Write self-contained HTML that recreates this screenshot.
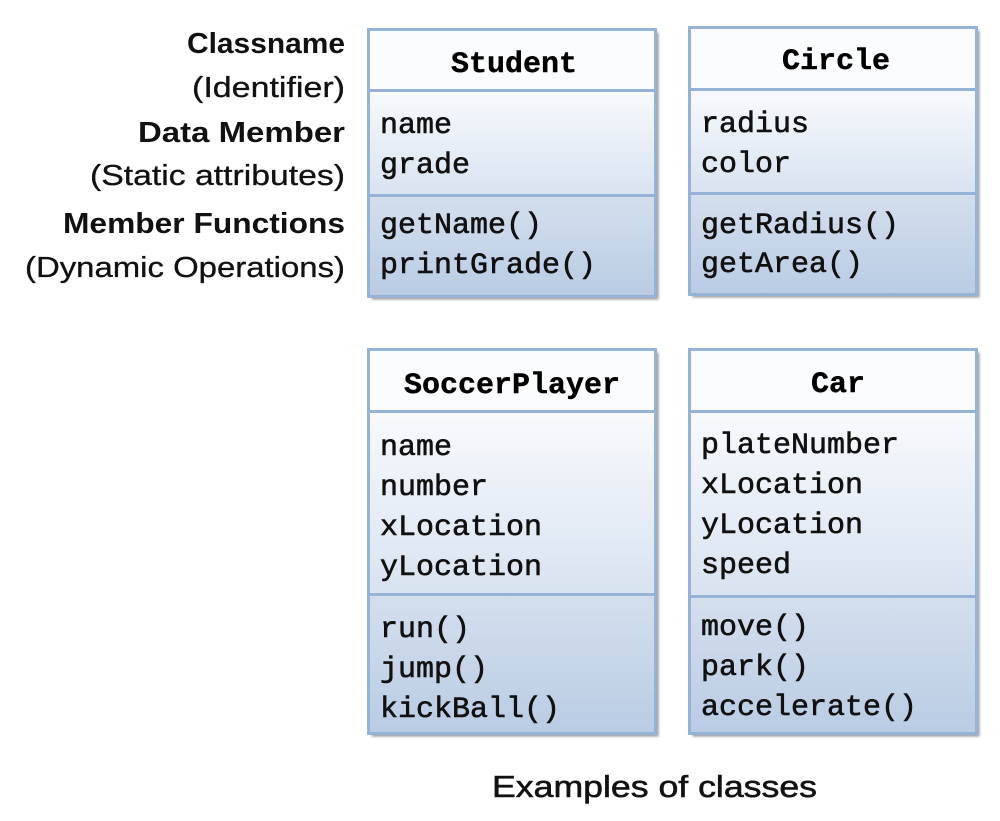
<!DOCTYPE html>
<html>
<head>
<meta charset="utf-8">
<style>
  html, body { margin: 0; padding: 0; background: #ffffff; }
  body { width: 1000px; height: 821px; overflow: hidden; }
  svg { display: block; }
  .lbl { font-family: "Liberation Sans", Arial, sans-serif; fill: #111; }
  .b { font-weight: bold; }
  .mono { font-family: "Liberation Mono", "DejaVu Sans Mono", monospace; font-size: 30px; fill: #111; stroke: #111; stroke-width: 0.6px; }
  .hdr { font-family: "Liberation Mono", "DejaVu Sans Mono", monospace; font-size: 30px; font-weight: bold; fill: #000; stroke: #000; stroke-width: 0.4px; }
</style>
</head>
<body>
<svg width="1000" height="821" viewBox="0 0 1000 821" xmlns="http://www.w3.org/2000/svg">
  <defs>
    <linearGradient id="attr" x1="0" y1="0" x2="0" y2="1">
      <stop offset="0" stop-color="#f8fafd"/>
      <stop offset="1" stop-color="#d8e3f0"/>
    </linearGradient>
    <linearGradient id="meth" x1="0" y1="0" x2="0" y2="1">
      <stop offset="0" stop-color="#d4dfed"/>
      <stop offset="1" stop-color="#b9cce4"/>
    </linearGradient>
    <filter id="sh" x="-5%" y="-5%" width="115%" height="115%">
      <feDropShadow dx="3" dy="3" stdDeviation="1.2" flood-color="#6e6e6e" flood-opacity="0.7"/>
    </filter>
  </defs>

  <!-- Left labels -->
  <text class="lbl b" x="345" y="53" font-size="29" text-anchor="end" textLength="158" lengthAdjust="spacingAndGlyphs">Classname</text>
  <text class="lbl" x="345" y="97" font-size="29" text-anchor="end" textLength="153" lengthAdjust="spacingAndGlyphs" stroke="#111" stroke-width="0.3">(Identifier)</text>
  <text class="lbl b" x="345" y="142" font-size="29" text-anchor="end" textLength="207" lengthAdjust="spacingAndGlyphs">Data Member</text>
  <text class="lbl" x="345" y="185" font-size="29" text-anchor="end" textLength="255" lengthAdjust="spacingAndGlyphs" stroke="#111" stroke-width="0.3">(Static attributes)</text>
  <text class="lbl b" x="345" y="233" font-size="29" text-anchor="end" textLength="282" lengthAdjust="spacingAndGlyphs">Member Functions</text>
  <text class="lbl" x="345" y="277" font-size="29" text-anchor="end" textLength="320" lengthAdjust="spacingAndGlyphs" stroke="#111" stroke-width="0.3">(Dynamic Operations)</text>

  <!-- Student -->
  <g filter="url(#sh)">
    <rect x="368.5" y="29.5" width="287" height="267" fill="#ffffff"/>
  </g>
  <rect x="368.5" y="29.5" width="287" height="61" fill="#fbfcfe"/>
  <rect x="368.5" y="90.5" width="287" height="105" fill="url(#attr)"/>
  <rect x="368.5" y="195.5" width="287" height="101" fill="url(#meth)"/>
  <rect x="368.5" y="29.5" width="287" height="267" fill="none" stroke="#95b3d7" stroke-width="3"/>
  <line x1="368" y1="90.5" x2="656" y2="90.5" stroke="#95b3d7" stroke-width="3"/>
  <line x1="368" y1="195.5" x2="656" y2="195.5" stroke="#95b3d7" stroke-width="3"/>
  <text class="hdr" x="451" y="72">Student</text>
  <text class="mono" x="380" y="133">name</text>
  <text class="mono" x="380" y="173">grade</text>
  <text class="mono" x="380" y="233">getName()</text>
  <text class="mono" x="380" y="273">printGrade()</text>

  <!-- Circle -->
  <g filter="url(#sh)">
    <rect x="689.5" y="27.5" width="287" height="267" fill="#ffffff"/>
  </g>
  <rect x="689.5" y="27.5" width="287" height="62" fill="#fbfcfe"/>
  <rect x="689.5" y="89.5" width="287" height="104" fill="url(#attr)"/>
  <rect x="689.5" y="193.5" width="287" height="101" fill="url(#meth)"/>
  <rect x="689.5" y="27.5" width="287" height="267" fill="none" stroke="#95b3d7" stroke-width="3"/>
  <line x1="689" y1="89.5" x2="977" y2="89.5" stroke="#95b3d7" stroke-width="3"/>
  <line x1="689" y1="193.5" x2="977" y2="193.5" stroke="#95b3d7" stroke-width="3"/>
  <text class="hdr" x="782" y="69">Circle</text>
  <text class="mono" x="701" y="132">radius</text>
  <text class="mono" x="701" y="172">color</text>
  <text class="mono" x="701" y="233">getRadius()</text>
  <text class="mono" x="701" y="272">getArea()</text>

  <!-- SoccerPlayer -->
  <g filter="url(#sh)">
    <rect x="368.5" y="349.5" width="287" height="384" fill="#ffffff"/>
  </g>
  <rect x="368.5" y="349.5" width="287" height="62" fill="#fbfcfe"/>
  <rect x="368.5" y="411.5" width="287" height="183" fill="url(#attr)"/>
  <rect x="368.5" y="594.5" width="287" height="139" fill="url(#meth)"/>
  <rect x="368.5" y="349.5" width="287" height="384" fill="none" stroke="#95b3d7" stroke-width="3"/>
  <line x1="368" y1="411.5" x2="656" y2="411.5" stroke="#95b3d7" stroke-width="3"/>
  <line x1="368" y1="594.5" x2="656" y2="594.5" stroke="#95b3d7" stroke-width="3"/>
  <text class="hdr" x="404" y="393">SoccerPlayer</text>
  <text class="mono" x="380" y="455">name</text>
  <text class="mono" x="380" y="495">number</text>
  <text class="mono" x="380" y="535">xLocation</text>
  <text class="mono" x="380" y="575">yLocation</text>
  <text class="mono" x="380" y="637">run()</text>
  <text class="mono" x="380" y="677">jump()</text>
  <text class="mono" x="380" y="717">kickBall()</text>

  <!-- Car -->
  <g filter="url(#sh)">
    <rect x="689.5" y="349.5" width="287" height="384" fill="#ffffff"/>
  </g>
  <rect x="689.5" y="349.5" width="287" height="62" fill="#fbfcfe"/>
  <rect x="689.5" y="411.5" width="287" height="185" fill="url(#attr)"/>
  <rect x="689.5" y="596.5" width="287" height="137" fill="url(#meth)"/>
  <rect x="689.5" y="349.5" width="287" height="384" fill="none" stroke="#95b3d7" stroke-width="3"/>
  <line x1="689" y1="411.5" x2="977" y2="411.5" stroke="#95b3d7" stroke-width="3"/>
  <line x1="689" y1="596.5" x2="977" y2="596.5" stroke="#95b3d7" stroke-width="3"/>
  <text class="hdr" x="811" y="392">Car</text>
  <text class="mono" x="701" y="453">plateNumber</text>
  <text class="mono" x="701" y="493">xLocation</text>
  <text class="mono" x="701" y="533">yLocation</text>
  <text class="mono" x="701" y="573">speed</text>
  <text class="mono" x="701" y="635">move()</text>
  <text class="mono" x="701" y="675">park()</text>
  <text class="mono" x="701" y="715">accelerate()</text>

  <!-- Caption -->
  <text class="lbl" x="492" y="797" font-size="31" textLength="325" lengthAdjust="spacingAndGlyphs" fill="#1a1a1a" stroke="#1a1a1a" stroke-width="0.6">Examples of classes</text>
</svg>
</body>
</html>
